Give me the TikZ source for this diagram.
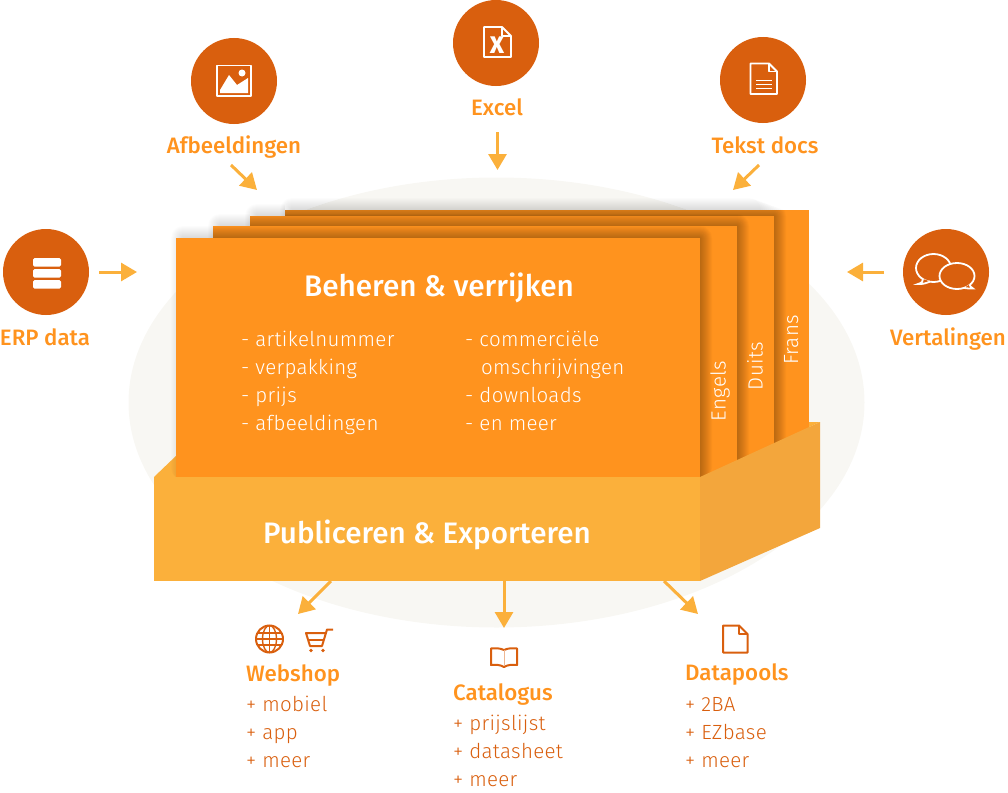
\documentclass[tikz,border=0pt]{standalone}
\usepackage{fontspec}
\setmainfont{Fira Sans}
\newfontfamily\flight[LetterSpace=1.5]{Fira Sans Light}
\newfontfamily\fmed{Fira Sans Medium}
\newfontfamily\fheavy{Fira Sans ExtraBold}
\usetikzlibrary{arrows.meta}
\definecolor{dorange}{HTML}{D95F0E}
\definecolor{sheet}{HTML}{FF931E}
\definecolor{boxc}{HTML}{FBB03B}
\definecolor{sidec}{HTML}{F3A63C}
\definecolor{bgell}{HTML}{F8F7F3}
\tikzset{
 x=1pt,y=-1pt,
 flow/.style={draw=boxc,line width=3pt,-{Triangle[length=16pt,width=18pt]}},
 circ/.style={circle,fill=dorange,minimum size=86pt,inner sep=0pt},
 head/.style={text=sheet,font=\fmed\fontsize{22.3}{22}\selectfont,inner sep=0pt,anchor=base},
 headl/.style={head,anchor=base west},
 item/.style={text=dorange,font=\flight\fontsize{20.5}{20}\selectfont,inner sep=0pt,anchor=base west},
 wit/.style={text=white,font=\flight\fontsize{20.5}{20}\selectfont,inner sep=0pt,anchor=base west},
 tab/.style={text=white,font=\flight\fontsize{20.5}{20}\selectfont,inner sep=0pt,rotate=90,anchor=base},
 ic/.style={draw=white,line width=1.8pt,line join=round},
 icd/.style={draw=dorange,line width=2pt,line join=round},
 blurweak/.style={fill=black,fill opacity=.01},
 blurstrong/.style={fill=black,fill opacity=.024},
}
% soft shadow behind a sheet: #1 left, #2 top, #3 right edge, #4 style
\newcommand{\softshadow}[4]{%
 \foreach \i in {1,...,12}{%
  \fill[#4,rounded corners=\i pt] ({#1+7-\i},{#2-\i}) rectangle ({#3+\i},480);
 }}
\begin{document}
\begin{tikzpicture}
\useasboundingbox (0,0) rectangle (1008,792);
\fill[bgell] (496.5,402.5) ellipse [x radius=368,y radius=225];
% back of the tray
\fill[boxc] (154,477) -- (177,455) -- (809,422) -- (820,422) -- (700,477) -- cycle;
% sheets, back to front
\foreach \i in {1,...,12}{%
  \fill[blurweak,rounded corners=\i pt] ({285+7-\i},{210-\i}) rectangle ({785-2*\i},300);
}
\fill[sheet] (285,210) rectangle (809,480);
\begin{scope}
\clip (235,190) rectangle (285,480);
\softshadow{250}{216}{774}{blurweak}
\end{scope}
\begin{scope}
\clip (285,210) rectangle (809,480);
\softshadow{250}{216}{774}{blurstrong}
\end{scope}
\fill[sheet] (250,216) rectangle (774,480);
\begin{scope}
\clip (200,190) rectangle (250,480);
\softshadow{213}{226}{737}{blurweak}
\end{scope}
\begin{scope}
\clip (250,216) -- (285,216) -- (285,210) -- (809,210) -- (809,480) -- (250,480) -- cycle;
\softshadow{213}{226}{737}{blurstrong}
\end{scope}
\fill[sheet] (213,226) rectangle (737,480);
\begin{scope}
\clip (160,190) rectangle (213,480);
\softshadow{176}{238}{700}{blurweak}
\end{scope}
\begin{scope}
\clip (213,226) -- (250,226) -- (250,216) -- (285,216) -- (285,210) -- (809,210) -- (809,480) -- (213,480) -- cycle;
\softshadow{176}{238}{700}{blurstrong}
\end{scope}
\fill[sheet] (176,238) rectangle (700,477);
% tray
\fill[sidec] (700,477) -- (820,422) -- (820,528) -- (700,581) -- cycle;
\fill[boxc] (154,477) rectangle (700,581);
% sheet texts
\node[text=white,font=\fmed\fontsize{29.7}{30}\selectfont,inner sep=0pt,anchor=base] (beheren) at (439,296) {Beheren \& verrijken};
\node[wit] (l1) at (241,346) {- artikelnummer};
\node[wit] (l2) at (241,374) {- verpakking};
\node[wit] (l3) at (241,402) {- prijs};
\node[wit] (l4) at (241,430) {- afbeeldingen};
\node[wit] (r1) at (465,346) {- commerciële};
\node[wit] (r2) at (481,374) {omschrijvingen};
\node[wit] (r3) at (465,402) {- downloads};
\node[wit] (r4) at (465,430) {- en meer};
\node[tab] (engels) at (725.5,391) {Engels};
\node[tab] (duits) at (762.7,366) {Duits};
\node[tab] (frans) at (798,340) {Frans};
\node[text=white,font=\fmed\fontsize{29.6}{30}\selectfont,inner sep=0pt,anchor=base] (publ) at (427,543) {Publiceren \& Exporteren};
% sources
\node[circ] (erp) at (46,272) {};
\node[circ] (afb) at (234,81) {};
\node[circ] (xl) at (496,43) {};
\node[circ] (doc) at (763,80) {};
\node[circ] (vert) at (946,272) {};
\node[head] (erpl) at (45,345) {ERP data};
\node[head] (afbl) at (234,153) {Afbeeldingen};
\node[head] (xll) at (497,115) {Excel};
\node[head] (docl) at (765,153) {Tekst docs};
\node[head] (vertl) at (948,345) {Vertalingen};
% connectors
\coordinate (a1) at (231,165); \coordinate (a2) at (257,190);
\coordinate (x1) at (497.5,132); \coordinate (x2) at (497.5,170);
\coordinate (t1) at (759,165); \coordinate (t2) at (733,190);
\coordinate (v1) at (884,272); \coordinate (v2) at (847,272);
\coordinate (e1) at (99,272); \coordinate (e2) at (137,272);
\coordinate (w1) at (331,581); \coordinate (w2) at (298,614);
\coordinate (c1) at (504,581); \coordinate (c2) at (504,628);
\coordinate (d1) at (664,581); \coordinate (d2) at (698,614);
\draw[flow] (a1) -- (a2);
\draw[flow] (x1) -- (x2);
\draw[flow] (t1) -- (t2);
\draw[flow] (v1) -- (v2);
\draw[flow] (e1) -- (e2);
\draw[flow] (w1) -- (w2);
\draw[flow] (c1) -- (c2);
\draw[flow] (d1) -- (d2);
% icon: database
\fill[white,rounded corners=1.5pt] (33,258) rectangle (61,266.5);
\fill[white,rounded corners=1.5pt] (33,269) rectangle (61,277.5);
\fill[white,rounded corners=1.5pt] (33,280) rectangle (61,288.5);
% icon: image
\draw[ic] (217,65.5) rectangle (251,96);
\fill[white] (220,93) -- (220,90) -- (229,75) -- (237,85) -- (248,78) -- (248,93) -- cycle;
\fill[white] (242,73) circle (3.5);
% icon: excel
\draw[ic] (484,27) -- (502,27) -- (511,36) -- (511,57) -- (484,57) -- cycle;
\draw[ic,line width=1.2pt] (502,27) -- (502,36) -- (511,36);
\node[text=white,font=\fheavy\fontsize{24}{24}\selectfont,inner sep=0pt,anchor=base] (xicon) at (497,54) {X};
% icon: text document
\draw[ic] (750.5,63.5) -- (769,63.5) -- (777,71.5) -- (777,94) -- (750.5,94) -- cycle;
\draw[ic,line width=1.2pt] (769,63.5) -- (769,71.5) -- (777,71.5);
\draw[ic,line width=1.6pt] (756,80.5) -- (772,80.5) (756,84.5) -- (772,84.5) (756,88.5) -- (772,88.5);
% icon: speech bubbles
\draw[ic] (933.5,268) ellipse [x radius=17.5,y radius=14];
\draw[ic,line join=miter,fill=dorange] (923,279) .. controls (923,281) and (922,283) .. (918,284) .. controls (922,284.5) and (927,283) .. (930,281.5);
\fill[dorange] (957,276) ellipse [x radius=17.5,y radius=13];
\draw[ic] (957,276) ellipse [x radius=17.5,y radius=13];
\draw[ic,line join=miter,fill=dorange] (964,288) .. controls (966,288) and (970,289) .. (973,288.5) .. controls (971,287) and (969.5,286) .. (969.5,284.5);
% bottom lists
\node[headl] (webl) at (246,681) {Webshop};
\node[item] (w1t) at (246,711) {+ mobiel};
\node[item] (w2t) at (246,739) {+ app};
\node[item] (w3t) at (246,767) {+ meer};
\node[headl] (catl) at (453,700) {Catalogus};
\node[item] (c1t) at (453,730) {+ prijslijst};
\node[item] (c2t) at (453,758) {+ datasheet};
\node[item] (c3t) at (453,786) {+ meer};
\node[headl] (datl) at (685,680) {Datapools};
\node[item] (d1t) at (685,711) {+ 2BA};
\node[item] (d2t) at (685,739) {+ EZbase};
\node[item] (d3t) at (685,767) {+ meer};
% icon: globe
\begin{scope}[shift={(269.5,639)}]
\draw[icd] (0,0) circle (13.5);
\draw[icd,line width=1.4pt] (0,-13.5) -- (0,13.5) (-13.5,0) -- (13.5,0) (-12,-6) -- (12,-6) (-12,6) -- (12,6);
\draw[icd,line width=1.4pt] (0,0) ellipse [x radius=7,y radius=13.5];
\end{scope}
% icon: cart
\draw[icd] (333,629.5) -- (327,629.5) -- (322,646) -- (310,646) -- (306,633) -- (326,633);
\draw[icd] (308,639.5) -- (324,639.5);
\fill[dorange] (311,650.5) circle (1.8) (323,650.5) circle (1.8);
% icon: book
\draw[icd] (504,650) .. controls (500,648) and (495,648) .. (491,648.5) -- (491,665) .. controls (495,664.5) and (500,664.5) .. (504,667) .. controls (508,664.5) and (513,664.5) .. (517,665) -- (517,648.5) .. controls (513,648) and (508,648) .. (504,650);
\draw[line width=1pt,draw=dorange!45!white] (504,650) -- (504,666);
% icon: blank document
\draw[icd] (723,625.5) -- (739,625.5) -- (747.5,634) -- (747.5,652.5) -- (723,652.5) -- cycle;
\draw[icd,line width=1.2pt] (739,625.5) -- (739,634) -- (747.5,634);
\end{tikzpicture}
\end{document}
